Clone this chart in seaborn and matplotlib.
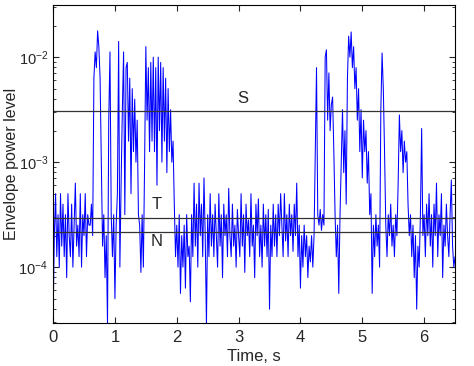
import numpy as np
import pandas as pd
import seaborn as sns
import matplotlib
matplotlib.use('Agg')
import matplotlib.pyplot as plt

# envelope power level, as log10 exponents, one value every 0.02 s
step = 0.02
level_exp = [
    -4.5, -3.7, -3.3, -3.9, -3.5, -4.0, -3.3, -3.8, -3.4, -3.9,
    -3.5, -4.1, -3.3, -3.7, -3.9, -3.4, -4.0, -3.6, -3.2, -3.8,
    -3.6, -3.9, -3.3, -4.0, -3.5, -3.7, -3.3, -3.9, -3.5, -3.6,
    -3.6, -3.4, -3.7, -2.2, -1.95, -2.1, -1.75, -1.9, -2.2, -3.0,
    -3.8, -3.5, -4.1, -3.7, -4.55, -2.6, -1.95, -3.5, -3.9, -3.5,
    -4.3, -3.6, -3.3, -1.85, -4.0, -3.2, -2.5, -1.95, -3.5, -2.1,
    -2.05, -2.8, -2.2, -3.3, -2.3, -2.9, -2.4, -3.0, -2.6, -3.5,
    -3.6, -4.05, -3.5, -4.0, -3.0, -1.9, -2.6, -2.1, -2.9, -2.05,
    -2.8, -2.0, -2.9, -2.1, -3.22, -2.0, -2.7, -2.05, -3.0, -2.1,
    -2.8, -2.2, -3.1, -2.3, -2.9, -2.5, -3.0, -2.8, -3.4, -3.9,
    -3.6, -4.0, -3.5, -4.25, -3.7, -4.0, -3.6, -4.2, -3.5, -3.9,
    -3.8, -4.33, -3.5, -3.9, -3.2, -3.8, -3.4, -4.0, -3.2, -3.7,
    -3.4, -3.9, -3.15, -3.7, -4.55, -3.5, -3.9, -3.3, -3.8, -3.5,
    -3.9, -3.4, -3.7, -4.0, -3.3, -3.8, -3.5, -4.1, -3.4, -3.7,
    -3.5, -3.9, -3.25, -3.7, -3.9, -3.4, -3.8, -3.6, -4.0, -3.45,
    -3.7, -3.9, -3.3, -3.8, -3.5, -4.05, -3.4, -3.7, -3.55, -3.9,
    -3.3, -3.8, -3.6, -4.1, -3.4, -3.7, -3.35, -3.9, -3.6, -4.0,
    -3.4, -3.8, -3.5, -3.9, -3.45, -4.4, -3.6, -3.9, -3.4, -3.8,
    -3.5, -3.9, -3.4, -3.7, -3.3, -3.6, -3.9, -3.3, -3.75, -3.5,
    -3.9, -3.4, -3.7, -3.5, -3.85, -3.4, -3.7, -3.2, -3.9, -3.6,
    -4.2, -3.7, -4.0, -3.6, -3.9, -3.7, -4.1, -3.8, -3.95, -3.7,
    -4.0, -3.7, -2.9, -2.1, -3.5, -3.6, -3.45, -3.65, -3.5, -3.6,
    -2.0, -1.93, -2.6, -2.15, -2.7, -2.45, -2.38, -2.9, -3.5, -3.9,
    -3.6, -4.25, -3.5, -3.0, -2.5, -3.1, -2.7, -3.4, -2.2, -1.8,
    -2.0, -1.76, -2.1, -1.9, -2.3, -2.1, -2.6, -2.3, -2.9, -2.5,
    -3.15, -2.6, -2.9, -2.7, -3.2, -2.9, -3.5, -3.3, -4.25, -3.6,
    -3.9, -3.5, -3.8, -3.6, -4.0, -2.5, -1.96, -2.3, -2.9, -3.6,
    -3.9, -3.5, -3.7, -3.4, -3.8, -3.6, -3.9, -3.5, -3.7, -3.2,
    -2.55, -2.9, -2.7, -3.1, -2.8, -3.0, -2.9, -3.4, -3.7, -3.5,
    -3.9, -3.6, -4.1, -3.7, -4.4, -3.8, -4.0, -3.5, -2.68, -3.7,
    -3.5, -3.9, -3.4, -3.7, -3.3, -3.8, -3.5, -4.0, -3.4, -3.7,
    -3.2, -3.9, -3.5, -3.7, -3.3, -4.1, -3.6, -3.8, -3.4, -3.7,
    -3.9, -3.5, -3.17, -3.8, -4.0, -3.9,
]

# threshold lines and their labels
level_names = ['S', 'T', 'N']
level_values = [3.05e-3, 2.97e-4, 2.17e-4]
label_x = [3.07, 1.68, 1.68]
label_y = [4.0e-3, 3.95e-4, 1.75e-4]

x_ticks = [0, 1, 2, 3, 4, 5, 6]

df = pd.DataFrame({'time': np.arange(len(level_exp)) * step,
                   'power': 10.0 ** np.array(level_exp)})

sns.set_style('ticks')
plt.rcParams['font.family'] = ['Liberation Sans', 'DejaVu Sans']
plt.rcParams['mathtext.fontset'] = 'custom'
plt.rcParams['mathtext.rm'] = 'Liberation Sans'
plt.rcParams['mathtext.it'] = 'Liberation Sans:italic'
plt.rcParams['xtick.direction'] = 'in'
plt.rcParams['ytick.direction'] = 'in'

fig = plt.figure(figsize=(4.74, 3.66), dpi=100)
ax = fig.add_axes([0.112, 0.118, 0.848, 0.868])

sns.lineplot(data=df, x='time', y='power', ax=ax, color='#0000ff',
             linewidth=0.75, estimator=None)

for name, val, lx, ly in zip(level_names, level_values, label_x, label_y):
    ax.axhline(val, color='#333333', linewidth=0.9)
    ax.text(lx, ly, name, fontsize=12, ha='center', va='center')

ax.set_yscale('log')
ax.set_xlim(0, 6.5)
ax.set_ylim(2.95e-5, 3.13e-2)
ax.set_xticks(x_ticks)
ax.set_xticklabels([str(t) for t in x_ticks])
ax.tick_params(which='both', top=True, right=True)
ax.tick_params(axis='x', labelsize=12, pad=5)
ax.tick_params(axis='y', labelsize=10.5, pad=3.5)
ax.tick_params(which='major', length=4)
ax.tick_params(which='minor', length=2.5)
for sp in ax.spines.values():
    sp.set_linewidth(0.8)
    sp.set_color('black')

ax.set_xlabel('Time, s', fontsize=12, labelpad=3)
ax.set_ylabel('Envelope power level', fontsize=11.5)
ax.yaxis.set_label_coords(-0.086, 0.5)

fig.savefig('out.png', dpi=100)
